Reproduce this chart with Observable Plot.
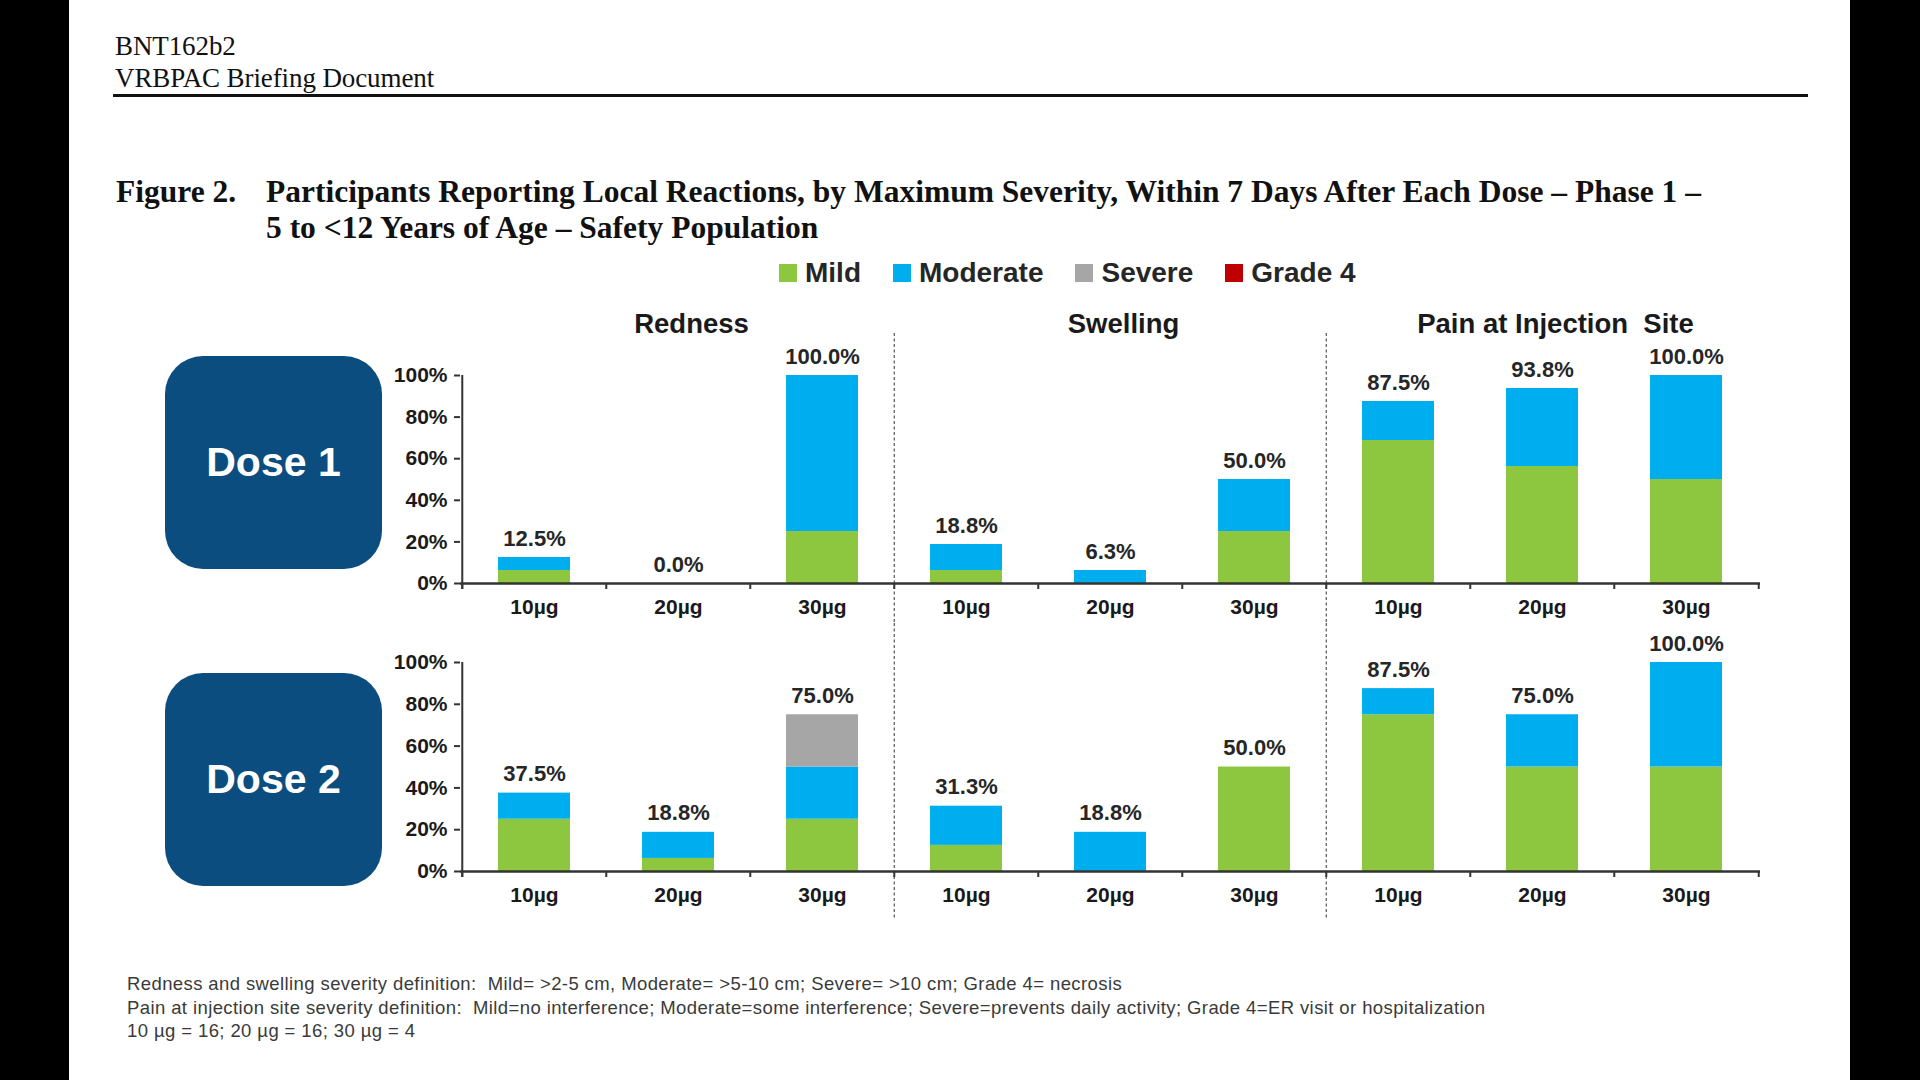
<!DOCTYPE html>
<html>
<head>
<meta charset="utf-8">
<script src="https://cdn.jsdelivr.net/npm/d3@7"></script>
<script src="https://cdn.jsdelivr.net/npm/@observablehq/plot@0.6"></script>
<style>
  html, body { margin: 0; padding: 0; }
  body { width: 1920px; height: 1080px; background: #000; position: relative; overflow: hidden; }
  #page { position: absolute; left: 69px; top: 0; width: 1781px; height: 1080px; background: #fff; }
  .abs { position: absolute; }
  .serif { font-family: "Liberation Serif", "Times New Roman", serif; color: #111; }
  .sans { font-family: "Liberation Sans", Arial, sans-serif; }
  #header { left: 115px; top: 30px; font-size: 27px; line-height: 32px; letter-spacing: -0.1px; }
  #rule { left: 113px; top: 94px; width: 1695px; height: 3px; background: #111; }
  #figno { left: 116px; top: 174px; font-size: 31.5px; line-height: 36px; font-weight: bold; }
  #figtitle { left: 266px; top: 174px; font-size: 31.5px; line-height: 36px; font-weight: bold; white-space: pre; }
  #legend { left: 779px; top: 258px; height: 30px; display: flex; align-items: center; font-size: 28px; font-weight: bold; color: #262626; }
  #legend .item { display: flex; align-items: center; margin-right: 32px; }
  #legend .item:last-child { margin-right: 0; }
  #legend .swatch { width: 18px; height: 18px; margin-right: 8px; }
  .dose { left: 165px; width: 217px; height: 213px; border-radius: 38px; background: #0c4d80; color: #fff;
          font-size: 41px; font-weight: bold; display: flex; align-items: center; justify-content: center; }
  #notes { left: 127px; top: 972px; font-size: 18.5px; line-height: 23.5px; letter-spacing: 0.4px; color: #3a3a3a; }
  .chart { position: absolute; left: 300px; }
</style>
</head>
<body>
<div id="page"></div>
<div id="header" class="abs serif">BNT162b2<br>VRBPAC Briefing Document</div>
<div id="rule" class="abs"></div>
<div id="figno" class="abs serif">Figure 2.</div>
<div id="figtitle" class="abs serif">Participants Reporting Local Reactions, by Maximum Severity, Within 7 Days After Each Dose – Phase 1 –
5 to &lt;12 Years of Age – Safety Population</div>
<div id="legend" class="abs sans"></div>
<div class="abs dose sans" style="top:356px">Dose 1</div>
<div class="abs dose sans" style="top:673px">Dose 2</div>
<div id="chart1" class="chart" style="top:300px"></div>
<div id="chart2" class="chart" style="top:623px"></div>
<div id="notes" class="abs sans">
  <div>Redness and swelling severity definition:&nbsp; Mild= &gt;2-5 cm, Moderate= &gt;5-10 cm; Severe= &gt;10 cm; Grade 4= necrosis</div>
  <div>Pain at injection site severity definition:&nbsp; Mild=no interference; Moderate=some interference; Severe=prevents daily activity; Grade 4=ER visit or hospitalization</div>
  <div>10 µg = 16; 20 µg = 16; 30 µg = 4</div>
</div>
<script>
// Local reactions by maximum severity, percent of participants per dose group
const reactions = ["Redness", "Swelling", "Pain at Injection  Site"];
const doseLevels = ["10µg", "20µg", "30µg"];
const severities = ["Mild", "Moderate", "Severe", "Grade 4"];
const severityColors = ["#8dc63f", "#00aeef", "#a6a6a6", "#c00000"];
const yTicks = [0, 20, 40, 60, 80, 100];

// One value per bar: Redness 10/20/30µg, Swelling 10/20/30µg, Pain 10/20/30µg
const dose1Mild     = [6.25, 0, 25, 6.25, 0, 25, 68.75, 56.25, 50];
const dose1Moderate = [6.25, 0, 75, 12.5, 6.25, 25, 18.75, 37.5, 50];
const dose1Severe   = [0, 0, 0, 0, 0, 0, 0, 0, 0];
const dose1Grade4   = [0, 0, 0, 0, 0, 0, 0, 0, 0];

const dose2Mild     = [25, 6.25, 25, 12.5, 0, 50, 75, 50, 50];
const dose2Moderate = [12.5, 12.5, 25, 18.75, 18.75, 0, 12.5, 25, 50];
const dose2Severe   = [0, 0, 25, 0, 0, 0, 0, 0, 0];
const dose2Grade4   = [0, 0, 0, 0, 0, 0, 0, 0, 0];

// legend
const legend = document.getElementById("legend");
severities.forEach((s, i) => {
  const item = document.createElement("div");
  item.className = "item";
  const sw = document.createElement("div");
  sw.className = "swatch";
  sw.style.background = severityColors[i];
  const label = document.createElement("span");
  label.textContent = s;
  item.append(sw, label);
  legend.append(item);
});

const keys = reactions.flatMap(r => doseLevels.map(l => `${r}|${l}`));

const W = 1500, ML = 160, MR = 40;
const step = (W - ML - MR) / keys.length;
const axisColor = "#333";

function chart({series, height, marginTop, marginBottom, sepTop, sepBottom, titles}) {
  const rows = [];
  keys.forEach((key, i) => {
    series.forEach((values, s) => {
      if (values[i] > 0) rows.push({key, severity: severities[s], value: values[i]});
    });
  });
  const totals = keys.map((key, i) => ({key, total: d3.sum(series, v => v[i])}));

  const marks = [
    Plot.barY(rows, {x: "key", y: "value", fill: "severity"}),
    // dashed separators between reaction groups
    Plot.ruleX([keys[3], keys[6]], {dx: -step / 2, stroke: "#555", strokeWidth: 1.2,
      strokeDasharray: "3,2.5", insetTop: sepTop, insetBottom: sepBottom}),
    // axis lines and boundary ticks
    Plot.ruleX([keys[0]], {dx: -step / 2, y1: 100, y2: 0, stroke: axisColor, strokeWidth: 2, insetBottom: -6}),
    Plot.ruleX(keys, {x: d => d, dx: -step / 2, y1: 0, y2: 0, stroke: axisColor, strokeWidth: 2, insetBottom: -6}),
    Plot.ruleX([keys[keys.length - 1]], {dx: step / 2, y1: 0, y2: 0, stroke: axisColor, strokeWidth: 2, insetBottom: -6}),
    Plot.ruleY([0], {stroke: axisColor, strokeWidth: 2.5}),
    Plot.axisY({ticks: yTicks, tickFormat: d => `${d}%`, tickSize: 6, tickPadding: 7,
      stroke: axisColor, strokeWidth: 2, label: null, fill: "#1a1a1a"}),
    Plot.axisX({tickSize: 0, tickPadding: 16, tickFormat: k => k.split("|")[1], label: null, fill: "#1a1a1a"}),
    Plot.text(totals, {x: "key", y: "total", text: d => `${d.total.toFixed(1)}%`, dy: -19, fill: "#262626", fontSize: 22})
  ];
  if (titles) {
    marks.push(Plot.text(reactions, {x: (d, i) => keys[i * 3 + 1], text: d => d, frameAnchor: "top",
      dy: -62, dx: 13, fontSize: 27.5, fill: "#1a1a1a"}));
  }
  return Plot.plot({
    width: W,
    height,
    marginLeft: ML,
    marginRight: MR,
    marginTop,
    marginBottom,
    x: {domain: keys, paddingInner: 0.5, paddingOuter: 0.25},
    y: {domain: [0, 100]},
    color: {domain: severities, range: severityColors},
    style: {fontFamily: "'Liberation Sans', Arial, sans-serif", fontSize: "21px", fontWeight: "bold", background: "transparent", overflow: "visible"},
    marks
  });
}

document.getElementById("chart1").append(chart({
  series: [dose1Mild, dose1Moderate, dose1Severe, dose1Grade4],
  height: 323, marginTop: 75, marginBottom: 40, sepTop: -42, sepBottom: -40, titles: true
}));
document.getElementById("chart2").append(chart({
  series: [dose2Mild, dose2Moderate, dose2Severe, dose2Grade4],
  height: 307, marginTop: 39, marginBottom: 59, sepTop: -39, sepBottom: -47, titles: false
}));
</script>
</body>
</html>
